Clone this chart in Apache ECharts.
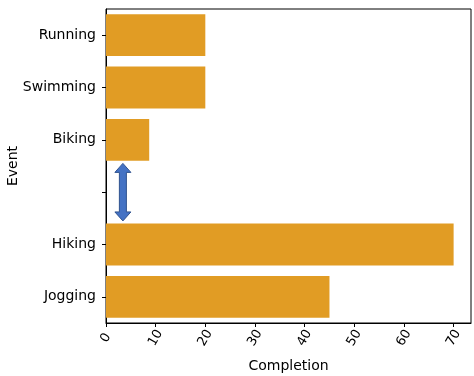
<!DOCTYPE html>
<html>
<head>
<meta charset="utf-8">
<script src="https://cdn.jsdelivr.net/npm/echarts@6/dist/echarts.min.js"></script>
<style>
  html, body { margin: 0; padding: 0; background: #fff; }
  #main { width: 474px; height: 376px; }
</style>
</head>
<body>
<div id="main"></div>
<script>
// data
const events = ['Running', 'Swimming', 'Biking', '', 'Hiking', 'Jogging'];
const completion = [20, 20, 8.7, 0, 70, 45];
const xTicks = [0, 10, 20, 30, 40, 50, 60, 70];
// arrow annotation: [x value, category index, half-length in bands]
const arrow = [[3.4, 3, 0.55]];

const FONT = 'DejaVu Sans';
const chart = echarts.init(document.getElementById('main'));

chart.setOption({
  animation: false,
  grid: {
    left: 106, right: 3, top: 9, bottom: 53,
    outerBoundsMode: 'none', containLabel: false,
    show: true, borderColor: '#000', borderWidth: 1
  },
  xAxis: {
    type: 'value',
    min: 0,
    max: 73.5,
    name: 'Completion',
    nameLocation: 'middle',
    nameGap: 36,
    nameMoveOverlap: false,
    nameTextStyle: { fontFamily: FONT, fontSize: 14, color: '#000' },
    axisLine: { show: true, lineStyle: { color: '#000' } },
    axisTick: { show: true, length: 4, lineStyle: { color: '#000' }, customValues: xTicks },
    axisLabel: {
      rotate: 60, align: 'center', verticalAlign: 'middle',
      fontFamily: FONT, fontSize: 13, color: '#000', margin: 15, customValues: xTicks
    },
    splitLine: { show: false }
  },
  yAxis: {
    type: 'category',
    data: events,
    inverse: true,
    name: 'Event',
    nameLocation: 'middle',
    nameGap: 86,
    nameMoveOverlap: false,
    nameTextStyle: { fontFamily: FONT, fontSize: 14, color: '#000' },
    axisLine: { show: true, lineStyle: { color: '#000' } },
    axisTick: { show: true, alignWithLabel: true, length: 4, lineStyle: { color: '#000' } },
    axisLabel: { fontFamily: FONT, fontSize: 14, color: '#000', margin: 10 }
  },
  series: [
    {
      type: 'bar',
      data: completion,
      barWidth: '80%',
      itemStyle: { color: '#E19C24' }
    },
    {
      type: 'custom',
      coordinateSystem: 'cartesian2d',
      data: arrow,
      encode: { x: 0, y: 1 },
      z: 5,
      renderItem: function (params, api) {
        const c = api.coord([api.value(0), api.value(1)]);
        const band = api.size([0, 1])[1];
        const half = api.value(2) * band;
        const x = c[0], y0 = c[1] - half, y1 = c[1] + half;
        const sw = 3.5, hw = 8, hl = 9;
        const pts = [
          [x, y0], [x + hw, y0 + hl], [x + sw, y0 + hl], [x + sw, y1 - hl],
          [x + hw, y1 - hl], [x, y1], [x - hw, y1 - hl], [x - sw, y1 - hl],
          [x - sw, y0 + hl], [x - hw, y0 + hl]
        ];
        return {
          type: 'polygon',
          shape: { points: pts },
          style: { fill: '#4472C4', stroke: '#2F528F', lineWidth: 1 }
        };
      }
    }
  ]
});
</script>
</body>
</html>
